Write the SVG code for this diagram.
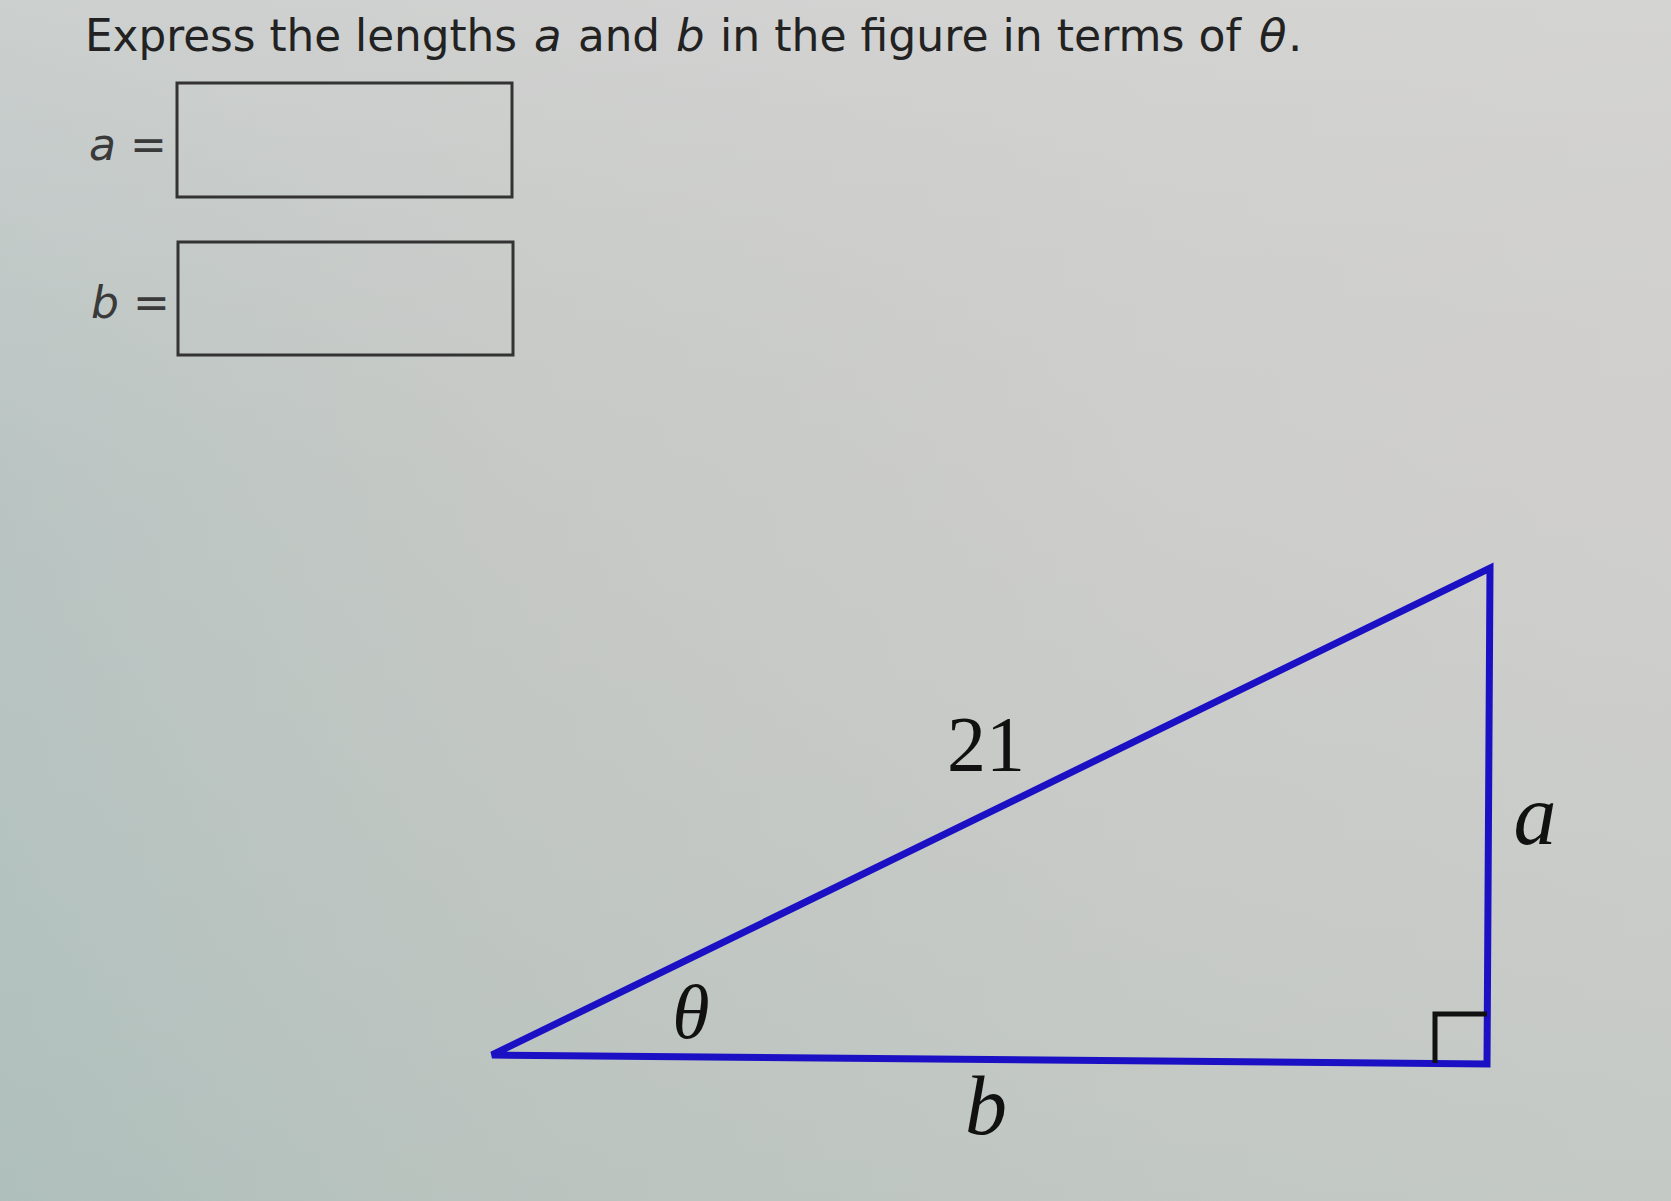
<svg xmlns="http://www.w3.org/2000/svg" width="1671" height="1201" viewBox="0 0 1671 1201">
<defs>
<linearGradient id="bgH" x1="0" y1="0" x2="1" y2="0">
<stop offset="0" stop-color="#b4c2bf"/>
<stop offset="0.3" stop-color="#c3c7c3"/>
<stop offset="0.7" stop-color="#cdcdca"/>
<stop offset="1" stop-color="#d0cfcc"/>
</linearGradient>
<linearGradient id="bgV" x1="0" y1="0" x2="0" y2="1">
<stop offset="0" stop-color="#d6d6d6" stop-opacity="0.7"/>
<stop offset="0.4" stop-color="#d0d0d0" stop-opacity="0.2"/>
<stop offset="1" stop-color="#9fb8b2" stop-opacity="0.25"/>
</linearGradient>
<style>
.q{font-family:"DejaVu Sans","Verdana",sans-serif;fill:#222;font-size:45px}
.it{font-style:italic}
.lbl{font-family:"DejaVu Sans",sans-serif;fill:#3a3a3a;font-size:44px}
.box{fill:none;stroke:#333;stroke-width:3}
.side{fill:none;stroke:#1c10c4;stroke-width:7;stroke-linejoin:miter;stroke-linecap:round}
.fig{font-family:"Liberation Serif","Times New Roman",serif;fill:#111}
</style>
</defs>
<rect width="1671" height="1201" fill="url(#bgH)"/>
<rect width="1671" height="1201" fill="url(#bgV)"/>

<g id="question">
<text class="q" x="85" y="51" textLength="432" lengthAdjust="spacingAndGlyphs">Express the lengths</text>
<text class="q it" x="534" y="51">a</text>
<text class="q" x="578" y="51" textLength="82" lengthAdjust="spacingAndGlyphs">and</text>
<text class="q it" x="676" y="51">b</text>
<text class="q" x="720" y="51" textLength="521" lengthAdjust="spacingAndGlyphs">in the figure in terms of</text>
<text class="q it" x="1259" y="51">θ</text>
<text class="q" x="1288" y="51">.</text>
</g>

<g id="answer-a">
<text class="lbl" x="89" y="160"><tspan font-style="italic">a</tspan> =</text>
<rect class="box" x="177" y="83" width="335" height="114"/>
</g>

<g id="answer-b">
<text class="lbl" x="91" y="318"><tspan font-style="italic">b</tspan> =</text>
<rect class="box" x="178" y="242" width="335" height="113"/>
</g>

<g id="triangle">
<polygon class="side" points="492,1055 1490,568 1487,1064"/>
<polyline points="1435,1063 1435,1014 1487,1014" fill="none" stroke="#111" stroke-width="5"/>
</g>

<g id="labels">
<text class="fig" x="986" y="770" font-size="78" text-anchor="middle">21</text>
<text class="fig" x="1535" y="844" font-size="86" font-style="italic" text-anchor="middle">a</text>
<text class="fig" x="691" y="1038" font-size="76" font-style="italic" text-anchor="middle">θ</text>
<text class="fig" x="986" y="1134" font-size="84" font-style="italic" text-anchor="middle">b</text>
</g>
</svg>
